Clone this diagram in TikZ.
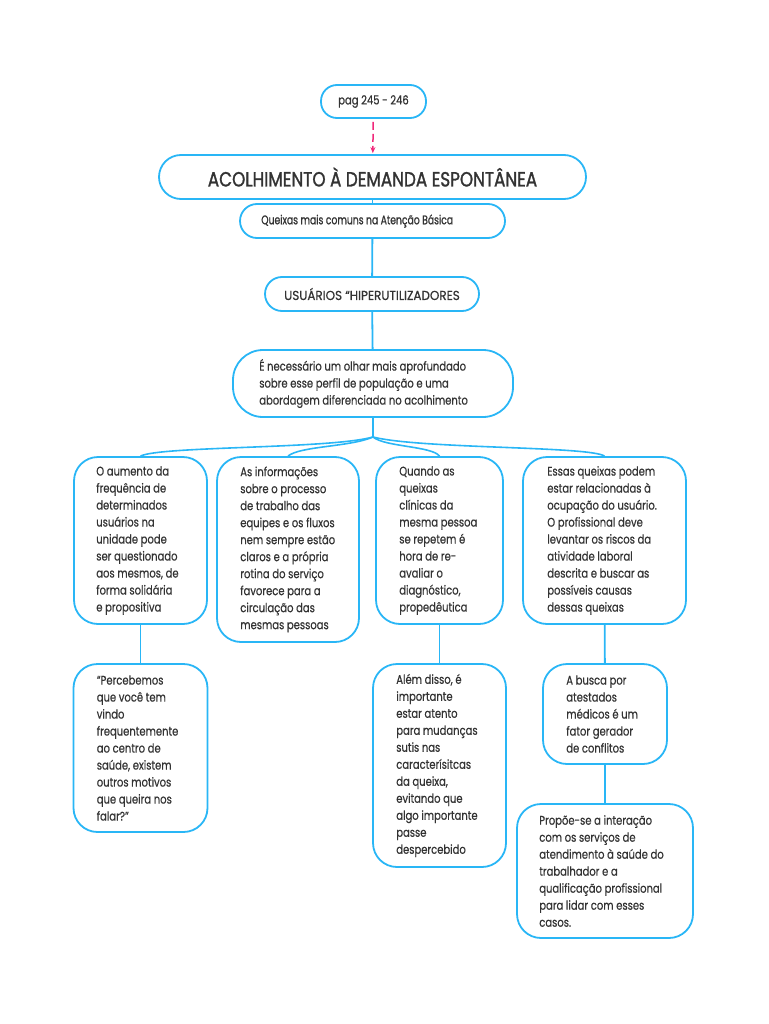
\documentclass[tikz,border=0pt]{standalone}
\usepackage{fontspec}
\setmainfont[FakeStretch=0.8,FakeBold=0.5]{Poppins}
\newfontfamily\ttlfont[FakeStretch=0.82,FakeBold=1.3]{Poppins}
\newfontfamily\medfont[FakeStretch=0.74,FakeBold=0.9]{Poppins}
\newfontfamily\wdfont[FakeStretch=0.92,FakeBold=0.5]{Poppins}
\usetikzlibrary{arrows.meta}
\definecolor{bl}{HTML}{29B6F6}
\definecolor{pk}{HTML}{F0287A}
\definecolor{tx}{HTML}{333333}
\begin{document}
\begin{tikzpicture}[x=1pt,y=-1pt,
  box/.style={draw=bl, line width=1.8pt, fill=white, inner sep=0pt, rounded corners=#1, text=tx,
    font=\fontsize{12.5}{17}\selectfont},
  box/.default=24pt,
  txt/.style={inner sep=0pt, align=left, text=tx, font=\fontsize{12.5}{17}\selectfont},
  ln/.style={draw=bl, line width=1.8pt},
  br/.style={draw=bl, line width=1.6pt}]
\useasboundingbox (0,0) rectangle (768,1024);

% top
\node[box=16pt, minimum width=105pt, minimum height=33pt] (pag) at (373.5,101.5) {pag 245 - 246};
\node[box=22pt, minimum width=427pt, minimum height=44pt, font=\ttlfont\fontsize{20.5}{24}\selectfont] (ttl) at (372.5,177) {ACOLHIMENTO À DEMANDA ESPONTÂNEA};
\node[box=17pt, minimum width=265pt, minimum height=34pt] (qx) at (372.5,221) {};
\node[txt, anchor=west, font=\medfont\fontsize{12.5}{17}\selectfont] (qxt) at ([xshift=22pt]qx.west) {Queixas mais comuns na Atenção Básica};
\node[box=17pt, minimum width=214pt, minimum height=34pt, font=\wdfont\fontsize{13}{17}\selectfont] (usu) at (372,294) {USUÁRIOS “HIPERUTILIZADORES};
\node[box=30pt, minimum width=280pt, minimum height=67pt] (nec) at (373,383.5) {};
\node[txt, anchor=west] (nect) at ([xshift=27pt]nec.west) {É necessário um olhar mais aprofundado\\sobre esse perfil de população e uma\\abordagem diferenciada no acolhimento};

% children
\node[box, minimum width=133pt, minimum height=167pt] (c1) at (140.5,540.5) {};
\node[txt, anchor=west] (c1t) at ([xshift=23pt]c1.west) {O aumento da\\frequência de\\determinados\\usuários na\\unidade pode\\ser questionado\\aos mesmos, de\\forma solidária\\e propositiva};
\node[box, minimum width=142pt, minimum height=185pt] (c2) at (288,549.5) {};
\node[txt, anchor=west] (c2t) at ([xshift=24pt]c2.west) {As informações\\sobre o processo\\de trabalho das\\equipes e os fluxos\\nem sempre estão\\claros e a própria\\rotina do serviço\\favorece para a\\circulação das\\mesmas pessoas};
\node[box, minimum width=127pt, minimum height=167pt] (c3) at (439.5,540.5) {};
\node[txt, anchor=west] (c3t) at ([xshift=24pt]c3.west) {Quando as\\queixas\\clínicas da\\mesma pessoa\\se repetem é\\hora de re-\\avaliar o\\diagnóstico,\\propedêutica};
\node[box, minimum width=163pt, minimum height=167pt] (c4) at (604.5,540.5) {};
\node[txt, anchor=west] (c4t) at ([xshift=25pt]c4.west) {Essas queixas podem\\estar relacionadas à\\ocupação do usuário.\\O profissional deve\\levantar os riscos da\\atividade laboral\\descrita e buscar as\\possíveis causas\\dessas queixas};

% grandchildren
\node[box, minimum width=134pt, minimum height=168pt] (p1) at (140.5,748) {};
\node[txt, anchor=west] (p1t) at ([xshift=24pt]p1.west) {“Percebemos\\que você tem\\vindo\\frequentemente\\ao centro de\\saúde, existem\\outros motivos\\que queira nos\\falar?”};
\node[box, minimum width=133pt, minimum height=203pt] (a3) at (439.5,765.5) {};
\node[txt, anchor=west] (a3t) at ([xshift=24pt]a3.west) {Além disso, é\\importante\\estar atento\\para mudanças\\sutis nas\\caracterísitcas\\da queixa,\\evitando que\\algo importante\\passe\\despercebido};
\node[box, minimum width=124pt, minimum height=100pt] (b4) at (605,714) {};
\node[txt, anchor=west] (b4t) at ([xshift=24pt]b4.west) {A busca por\\atestados\\médicos é um\\fator gerador\\de conflitos};
\node[box, minimum width=176pt, minimum height=134pt] (pr) at (605,871) {};
\node[txt, anchor=west] (prt) at ([xshift=23pt]pr.west) {Propõe-se a interação\\com os serviços de\\atendimento à saúde do\\trabalhador e a\\qualificação profissional\\para lidar com esses\\casos.};

% connectors
\draw[pk, line width=1.5pt, dash pattern=on 8pt off 4pt, shorten <=3pt, shorten >=1pt,
  -{Stealth[length=6pt,width=5pt]}] (pag) -- (ttl);
\draw[ln] (ttl) -- (qx);
\draw[ln] (qx) -- (usu);
\draw[ln] (usu) -- (nec);
\coordinate (hub) at (373,437);
\draw[ln] (nec.south) -- (hub);
\draw[br] (hub) .. controls (330,449) and (160,446) .. (c1.north);
\draw[br] (hub) .. controls (350,447) and (300,446) .. (c2.north);
\draw[br] (hub) .. controls (385,447) and (432,446) .. (c3.north);
\draw[br] (hub) .. controls (420,449) and (590,446) .. (c4.north);
\draw[ln] (c1) -- (p1);
\draw[ln] (c3) -- (a3);
\draw[ln] (c4) -- (b4);
\draw[ln] (b4) -- (pr);
\end{tikzpicture}
\end{document}
